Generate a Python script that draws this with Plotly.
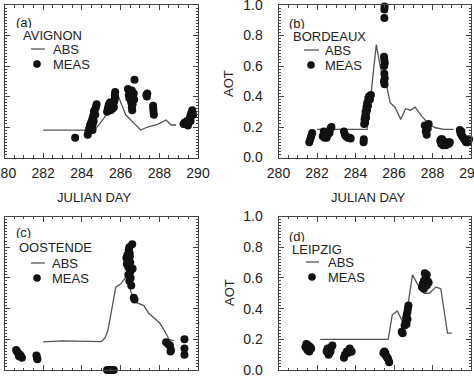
import plotly.graph_objects as go

W, H = 474, 376

# ---------------- data ----------------
a_abs_x = [282.0, 284.66, 285.13, 285.48, 285.86, 286.26, 286.70, 287.04, 287.39, 287.91, 288.35, 288.61, 288.87]
a_abs_y = [0.18, 0.18, 0.257, 0.32, 0.41, 0.28, 0.224, 0.18, 0.20, 0.217, 0.246, 0.213, 0.213]
a_meas_x = [283.65,
            284.30, 284.34, 284.38, 284.42, 284.45, 284.48, 284.50, 284.53, 284.56, 284.58, 284.61, 284.63,
            284.66, 284.69, 284.72, 284.76, 284.55, 284.62,
            285.30, 285.34, 285.38, 285.42, 285.45, 285.48, 285.52, 285.55, 285.58, 285.62, 285.65, 285.68,
            285.71, 285.72, 285.70, 285.40,
            286.38, 286.42, 286.45, 286.48, 286.52, 286.55, 286.58, 286.60, 286.62, 286.65, 286.68, 286.70,
            286.72, 286.62, 286.58,
            287.33, 287.36, 287.38,
            287.68, 287.70, 287.72, 287.69,
            289.25, 289.32, 289.38, 289.44, 289.50, 289.55, 289.60, 289.65, 289.70, 289.75, 289.62, 289.48]
a_meas_y = [0.13,
            0.15, 0.17, 0.19, 0.21, 0.22, 0.23, 0.20, 0.25, 0.22, 0.27, 0.24, 0.29,
            0.31, 0.28, 0.33, 0.35, 0.18, 0.30,
            0.30, 0.32, 0.34, 0.33, 0.36, 0.31, 0.34, 0.36, 0.32, 0.35, 0.33, 0.37,
            0.39, 0.43, 0.41, 0.35,
            0.45, 0.41, 0.39, 0.43, 0.38, 0.36, 0.33, 0.31, 0.35, 0.39, 0.42, 0.38,
            0.51, 0.41, 0.44,
            0.41, 0.40, 0.42,
            0.34, 0.30, 0.28, 0.32,
            0.22, 0.23, 0.22, 0.24, 0.23, 0.25, 0.27, 0.29, 0.31, 0.28, 0.24, 0.21]

b_abs_x = [282.0, 284.6, 284.75, 284.9, 285.08, 285.25, 285.45, 285.6, 285.8, 286.05, 286.35, 286.6, 286.85, 287.1, 287.45, 287.8, 288.15, 288.6, 289.1]
b_abs_y = [0.185, 0.185, 0.35, 0.55, 0.74, 0.62, 0.50, 0.48, 0.36, 0.33, 0.25, 0.32, 0.31, 0.33, 0.27, 0.22, 0.195, 0.185, 0.185]
b_meas_x = [281.60, 281.65, 281.70, 281.75,
            282.30, 282.35, 282.40, 282.50, 282.55, 282.65, 282.70, 282.75,
            283.40, 283.45, 283.50, 283.60, 283.70, 283.75,
            284.42, 284.43, 284.45, 284.47, 284.50, 284.52, 284.55, 284.57, 284.60, 284.62, 284.65, 284.67,
            284.70, 284.60, 284.55, 284.50, 284.75, 284.80,
            285.50, 285.51, 285.50, 285.48, 285.50, 285.52, 285.49, 285.50, 285.52, 285.48, 285.51,
            287.60, 287.65, 287.70, 287.75, 287.80, 287.70,
            288.40, 288.45, 288.50, 288.55, 288.60, 288.65, 288.70, 288.75, 288.80, 288.85, 288.90, 288.50, 288.45,
            289.42, 289.45, 289.50, 289.55, 289.60, 289.65, 289.70, 289.75, 289.80, 289.85, 289.90, 289.50]
b_meas_y = [0.10, 0.12, 0.14, 0.16,
            0.14, 0.17, 0.13, 0.13, 0.15, 0.16, 0.19, 0.20,
            0.17, 0.15, 0.14, 0.13, 0.13, 0.125,
            0.10, 0.12, 0.22, 0.25, 0.27, 0.30, 0.29, 0.33, 0.35, 0.36, 0.34, 0.39,
            0.40, 0.31, 0.26, 0.23, 0.38, 0.41,
            0.97, 0.99, 0.915, 0.66, 0.64, 0.62, 0.60, 0.55, 0.52, 0.50, 0.48,
            0.21, 0.17, 0.15, 0.19, 0.22, 0.20,
            0.11, 0.09, 0.10, 0.08, 0.09, 0.10, 0.08, 0.09, 0.10, 0.09, 0.10, 0.12, 0.12,
            0.18, 0.16, 0.15, 0.14, 0.13, 0.12, 0.11, 0.10, 0.11, 0.10, 0.12, 0.17]

c_abs_x = [282.0, 283.0, 285.0, 285.2, 285.35, 285.55, 285.75, 286.0, 286.3, 286.45, 286.6, 286.8, 287.0, 287.2, 287.45, 287.7, 288.0, 288.25, 288.5, 288.75]
c_abs_y = [0.183, 0.19, 0.185, 0.21, 0.26, 0.39, 0.54, 0.56, 0.61, 0.55, 0.48, 0.44, 0.43, 0.42, 0.37, 0.34, 0.31, 0.26, 0.20, 0.19]
c_meas_x = [280.60, 280.65, 280.70, 280.80, 280.85, 280.90, 280.75,
            281.65, 281.68, 281.70,
            285.30, 285.40, 285.50, 285.55, 285.65,
            286.30, 286.32, 286.35, 286.38, 286.40, 286.42, 286.45, 286.47, 286.50, 286.52, 286.55, 286.40,
            286.45, 286.50, 286.68, 286.72, 286.48, 286.60, 286.62,
            288.35, 288.45, 288.55, 288.60, 288.58,
            289.30, 289.30, 289.30]
c_meas_y = [0.13, 0.12, 0.11, 0.10, 0.09, 0.08, 0.09,
            0.095, 0.08, 0.07,
            0.0, 0.0, 0.0, 0.0, 0.0,
            0.73, 0.69, 0.75, 0.71, 0.67, 0.78, 0.80, 0.76, 0.64, 0.60, 0.55, 0.62,
            0.58, 0.70, 0.47, 0.46, 0.74, 0.82, 0.66,
            0.18, 0.17, 0.16, 0.13, 0.12,
            0.20, 0.14, 0.10]

d_abs_x = [282.17, 285.70, 285.91, 286.17, 286.43, 286.61, 286.78, 286.96, 287.22, 287.57, 287.83, 288.17, 288.43, 288.61, 288.78, 289.0]
d_abs_y = [0.20, 0.20, 0.36, 0.385, 0.32, 0.33, 0.47, 0.62, 0.56, 0.50, 0.50, 0.54, 0.53, 0.37, 0.24, 0.24]
d_meas_x = [281.40, 281.45, 281.50, 281.55, 281.60, 281.65, 281.70,
            282.50, 282.55, 282.60, 282.70, 282.75, 282.80, 282.65,
            283.40, 283.45, 283.55, 283.60, 283.70, 283.75, 283.80,
            285.45, 285.50, 285.55, 285.60, 285.65, 285.70, 285.75, 285.55,
            286.40, 286.45, 286.55, 286.60, 286.63, 286.66, 286.70, 286.72, 286.75, 286.65, 286.70,
            287.45, 287.50, 287.55, 287.60, 287.65, 287.70, 287.75, 287.80, 287.60, 287.70, 287.55, 287.65]
d_meas_y = [0.15, 0.17, 0.13, 0.16, 0.12, 0.15, 0.14,
            0.12, 0.14, 0.10, 0.12, 0.15, 0.16, 0.11,
            0.08, 0.10, 0.12, 0.11, 0.14, 0.12, 0.12,
            0.11, 0.12, 0.10, 0.09, 0.08, 0.07, 0.05, 0.11,
            0.25, 0.24, 0.29, 0.31, 0.34, 0.36, 0.38, 0.40, 0.42, 0.30, 0.33,
            0.54, 0.56, 0.58, 0.55, 0.60, 0.62, 0.58, 0.57, 0.63, 0.55, 0.53, 0.57]

panels = [
    ("(a)", "AVIGNON", a_abs_x, a_abs_y, a_meas_x, a_meas_y),
    ("(b)", "BORDEAUX", b_abs_x, b_abs_y, b_meas_x, b_meas_y),
    ("(c)", "OOSTENDE", c_abs_x, c_abs_y, c_meas_x, c_meas_y),
    ("(d)", "LEIPZIG", d_abs_x, d_abs_y, d_meas_x, d_meas_y),
]

# ---------------- layout (pixel geometry) ----------------
def px(x):
    return x / W

def py(y):
    return 1 - y / H

xdom = {0: (4.5, 198), 1: (278.5, 471), 2: (4.5, 198), 3: (278.5, 471)}
ydom = {0: (5, 157.5), 1: (5, 157.5), 2: (216.5, 370), 3: (216.5, 370)}

FONT = "Liberation Sans, Arial, sans-serif"
LINE_C = "#555555"
AX_C = "#444444"
DOT_C = "#111111"

fig = go.Figure()
layout = dict(width=W, height=H, margin=dict(l=0, r=0, t=0, b=0, autoexpand=False),
              paper_bgcolor="white", plot_bgcolor="white", showlegend=False,
              font=dict(family=FONT, size=13, color="#222"))

annotations = []
shapes = []

label_pos = {
    0: dict(tag=(15, 22), name=(22, 35), key_line=(31, 45, 49), abs=(52, 49), dot=(37, 64), meas=(52, 64)),
    1: dict(tag=(288, 23), name=(292, 36), key_line=(304, 319, 50), abs=(324, 50), dot=(311, 65), meas=(324, 65)),
    2: dict(tag=(15, 232), name=(18, 247), key_line=(31, 45, 263), abs=(51, 263), dot=(37, 278), meas=(51, 278)),
    3: dict(tag=(288, 236), name=(291, 249), key_line=(306, 319, 262), abs=(327, 262), dot=(312, 277), meas=(327, 277)),
}

for i, (tag, name, ax_, ay_, mx_, my_) in enumerate(panels):
    n = "" if i == 0 else str(i + 1)
    xa, ya = "x" + n, "y" + n
    fig.add_trace(go.Scatter(x=ax_, y=ay_, mode="lines", name="ABS",
                             line=dict(color=LINE_C, width=1.3), xaxis=xa, yaxis=ya))
    fig.add_trace(go.Scatter(x=mx_, y=my_, mode="markers", name="MEAS",
                             marker=dict(color=DOT_C, size=8, line=dict(width=0)),
                             cliponaxis=False, xaxis=xa, yaxis=ya))
    x0, x1 = xdom[i]
    y0, y1 = ydom[i]
    show_x_labels = i in (0, 1)
    show_y_labels = i in (1, 3)
    layout["xaxis" + n] = dict(
        domain=[px(x0), px(x1)], range=[280, 290], anchor=ya, automargin=False,
        tickmode="linear", tick0=280, dtick=2, ticks="inside", ticklen=5,
        tickcolor=AX_C, showline=True, linecolor=AX_C, linewidth=1, mirror="ticks",
        showgrid=False, zeroline=False, showticklabels=show_x_labels,
        ticklabeloverflow="allow",
        tickfont=dict(size=14, color="#222"), ticklabelstandoff=3,
        minor=dict(dtick=0.5, ticks="inside", ticklen=2.5, tickcolor=AX_C, showgrid=False),
    )
    layout["yaxis" + n] = dict(
        domain=[py(y1), py(y0)], range=[0, 1.0], anchor=xa, automargin=False,
        tickmode="linear", tick0=0, dtick=0.2, ticks="inside", ticklen=5,
        tickcolor=AX_C, showline=True, linecolor=AX_C, linewidth=1, mirror="ticks",
        showgrid=False, zeroline=False, showticklabels=show_y_labels,
        ticklabeloverflow="allow",
        tickformat=".1f", tickfont=dict(size=14, color="#222"), ticklabelstandoff=12,
        minor=dict(dtick=0.02, ticks="inside", ticklen=2, tickcolor=AX_C, showgrid=False),
    )

    lp = label_pos[i]
    for key, txt in (("tag", tag), ("name", name), ("abs", "ABS"), ("meas", "MEAS")):
        tx, ty = lp[key]
        annotations.append(dict(x=px(tx), y=py(ty), xref="paper", yref="paper",
                                text=txt, showarrow=False, xanchor="left", yanchor="middle",
                                height=12, valign="middle",
                                font=dict(size=13, color="#222"), borderpad=0))
    kx0, kx1, ky = lp["key_line"]
    shapes.append(dict(type="line", xref="paper", yref="paper",
                       x0=px(kx0), x1=px(kx1), y0=py(ky), y1=py(ky),
                       line=dict(color=LINE_C, width=1.3)))
    dx, dy = lp["dot"]
    r = 3.8
    shapes.append(dict(type="circle", xref="paper", yref="paper",
                       x0=px(dx - r), x1=px(dx + r), y0=py(dy + r), y1=py(dy - r),
                       fillcolor=DOT_C, line=dict(width=0)))

# axis titles as annotations
for cx in (94, 368):
    annotations.append(dict(x=px(cx), y=py(197), xref="paper", yref="paper", text="JULIAN DAY",
                            showarrow=False, xanchor="center", yanchor="middle",
                            font=dict(size=13, color="#222")))
for cy in (84, 293):
    annotations.append(dict(x=px(229), y=py(cy), xref="paper", yref="paper", text="AOT",
                            showarrow=False, textangle=-90, xanchor="center", yanchor="middle",
                            font=dict(size=13, color="#222")))

layout["annotations"] = annotations
layout["shapes"] = shapes
fig.update_layout(**layout)
fig.write_html("out.html", config={"displayModeBar": False},
               post_script="document.body.style.margin='0';document.body.style.overflow='hidden';")
